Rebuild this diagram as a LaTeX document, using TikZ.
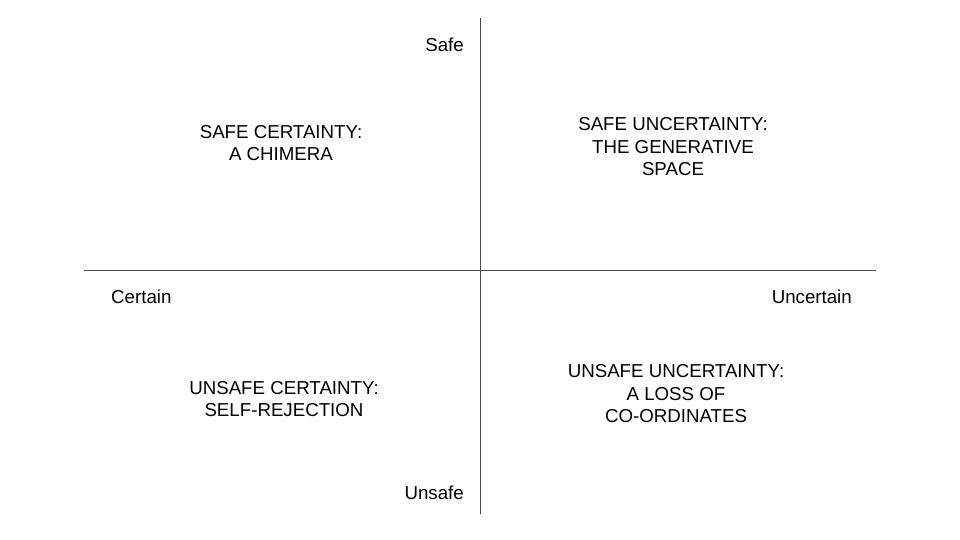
\documentclass[tikz,border=0pt]{standalone}
\usepackage{fontspec}
\setmainfont{Liberation Sans}
\begin{document}
\begin{tikzpicture}[x=1pt,y=-1pt]
\tikzset{axis/.style={draw=black!72,line width=1pt},
         pole/.style={inner sep=0pt,font=\fontsize{18.7}{22}\selectfont},
         quad/.style={inner sep=0pt,align=center,
                      font=\fontsize{18.7}{22.5}\selectfont}
}
\useasboundingbox[fill=white] (0,0) rectangle (960,540);
% axes
\coordinate (top)    at (480,18);
\coordinate (bottom) at (480,514);
\coordinate (left)   at (84,270);
\coordinate (right)  at (876,270);
\draw[axis] (top) -- (bottom);
\draw[axis] (left) -- (right);
% poles
\node[pole,anchor=east] (safe)      at (464,45)  {Safe};
\node[pole,anchor=east] (unsafe)    at (464,493) {Unsafe};
\node[pole,anchor=west] (certain)   at (111,297) {Certain};
\node[pole,anchor=east] (uncertain) at (852,297) {Uncertain};
% quadrants
\node[quad] (sc) at (281,143) {SAFE CERTAINTY:\\A CHIMERA};
\node[quad] (su) at (673,147) {SAFE UNCERTAINTY:\\THE GENERATIVE\\SPACE};
\node[quad] (uc) at (284,399) {UNSAFE CERTAINTY:\\SELF-REJECTION};
\node[quad] (uu) at (676,394) {UNSAFE UNCERTAINTY:\\A LOSS OF\\CO-ORDINATES};
\end{tikzpicture}
\end{document}
